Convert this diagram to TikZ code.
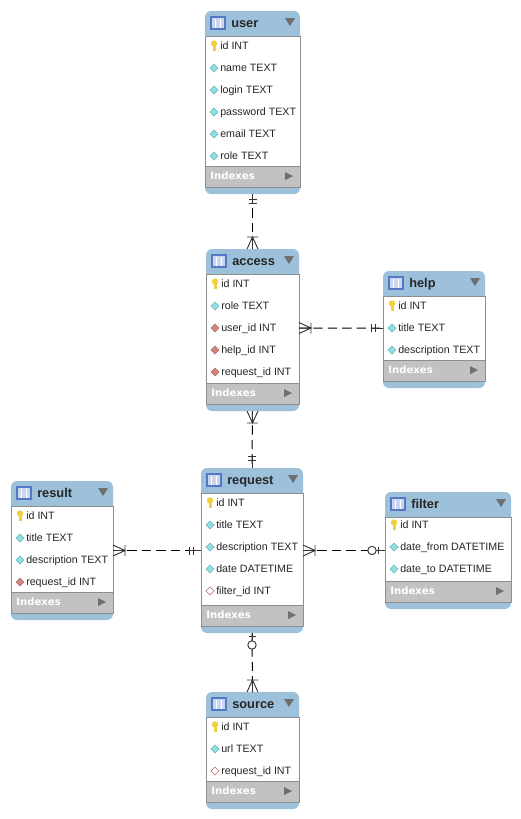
\documentclass[tikz,border=0pt]{standalone}
\usepackage{fontspec}
\setmainfont{Liberation Sans}
\newfontfamily\idxfont{DejaVu Sans}
\usetikzlibrary{arrows.meta,positioning,calc,fit}
\definecolor{headblue}{HTML}{9DC1DA}
\definecolor{idxgray}{HTML}{C2C2C2}
\definecolor{edgegray}{HTML}{8E8E8E}
\definecolor{arrowgray}{HTML}{6E6E6E}
\definecolor{iconblue}{HTML}{5578C4}
\definecolor{iconfill}{HTML}{C9D6EE}
\definecolor{keyyellow}{HTML}{F0D040}
\definecolor{colcyan}{HTML}{8FE0E0}
\definecolor{colteal}{HTML}{6FB4B8}
\definecolor{fkred}{HTML}{D0857C}
\definecolor{fkedge}{HTML}{B07068}
% one table: name, left, top, right, bottom, title
\newcommand{\erdtable}[6]{
	\node[tbl,fit={(#2,#3) (#4,#5)}] (#1) {};
	\node[body,fit={(#2,#3+25) (#4,#5-28)}] (#1body) {};
	\node[idx,fit={(#2,#5-28) (#4,#5-7)}] (#1idx) {};
	\node[title] (#1title) at (#2+26,#3+16.5) {#6};
	\node[idxtext] (#1idxtext) at (#2+5,#5-14.5) {Indexes};
	\pic at (#2+6,#3+6) {tableicon};
	\fill[arrowgray] (#4-15,#3+7)--(#4-5,#3+7)--(#4-10,#3+15)--cycle;
	\fill[arrowgray] (#4-15,#5-22)--(#4-7,#5-18)--(#4-15,#5-14)--cycle;
}
% one column: node name, icon, left of the table, y, text
\newcommand{\erdrow}[5]{
	\pic at (#3+9,#4) {#2};
	\node[colname] (#1) at (#3+15,#4+3.5) {#5};
}
\begin{document}
\begin{tikzpicture}[x=0.75pt,y=-0.75pt,
	tbl/.style={rectangle,fill=headblue,rounded corners=4.5pt,inner sep=0pt,outer sep=0pt},
	body/.style={rectangle,draw=edgegray,fill=white,line width=0.6pt,inner sep=0pt,outer sep=0pt},
	idx/.style={rectangle,draw=edgegray,fill=idxgray,line width=0.6pt,inner sep=0pt,outer sep=0pt},
	title/.style={anchor=base west,inner sep=0pt,font=\fontsize{9.6}{11}\selectfont\bfseries,text=black!85},
	idxtext/.style={anchor=base west,inner sep=0pt,font=\idxfont\fontsize{7.6}{9}\selectfont\bfseries,text=white},
	colname/.style={anchor=base west,inner sep=0pt,font=\fontsize{8}{9}\selectfont,text=black!85},
	rel/.style={draw=black,line width=0.75pt,dash pattern=on 7pt off 3.8pt},
	relmark/.style={draw=black!80,line width=0.7pt},
	tableicon/.pic={
		\draw[iconblue,fill=iconfill,line width=0.8pt] (0,0) rectangle (14,12);
		\draw[white,line width=0.6pt] (4.5,2)--(4.5,11) (9,2)--(9,11);
	},
	keyicon/.pic={
		\fill[keyyellow] (-1.5,0)--(-1.5,5)--(1.5,5)--(1.5,0)--cycle;
		\fill[keyyellow] (0,-2.5) circle[radius=3.2];
	},
	colicon/.pic={\draw[colteal,fill=colcyan,line width=0.5pt] (-4,0)--(0,-4)--(4,0)--(0,4)--cycle;},
	fkicon/.pic={\draw[fkedge,fill=fkred,line width=0.5pt] (-4,0)--(0,-4)--(4,0)--(0,4)--cycle;},
	nullicon/.pic={\draw[fkedge,fill=white,line width=0.5pt] (-4,0)--(0,-4)--(4,0)--(0,4)--cycle;},
	foot/.pic={
		\draw[relmark] (0,-5.5)--(12,0)--(0,5.5) (0,0)--(12,0) (12,-5.5)--(12,5.5);
	},
	twobars/.pic={
		\draw[relmark] (0,0)--(12,0) (7.5,-4)--(7.5,4) (12,-4)--(12,4);
	},
	twobarsnear/.pic={
		\draw[relmark] (0,0)--(9,0) (5,-4)--(5,4) (9,-4)--(9,4);
	},
	zerobar/.pic={
		\draw[relmark] (0,0)--(9,0) (6.5,-3.5)--(6.5,3.5);
		\draw[relmark,fill=white] (13,0) circle[radius=4.2];
	},
	zerobarnear/.pic={
		\draw[relmark] (0,0)--(8,0) (3.5,-3.5)--(3.5,3.5);
		\draw[relmark,fill=white] (12,0) circle[radius=4.2];
	}
	]
	\path[use as bounding box,fill=white] (0,0) rectangle (521,819);
	% tables
	\erdtable{user}{205}{11}{300}{194}{user}
	\erdrow{userid}{keyicon}{205}{46}{id INT}
	\erdrow{username}{colicon}{205}{68}{name TEXT}
	\erdrow{userlogin}{colicon}{205}{90}{login TEXT}
	\erdrow{userpassword}{colicon}{205}{112}{password TEXT}
	\erdrow{useremail}{colicon}{205}{134}{email TEXT}
	\erdrow{userrole}{colicon}{205}{156}{role TEXT}
	\erdtable{access}{206}{249}{299}{411}{access}
	\erdrow{accessid}{keyicon}{206}{284}{id INT}
	\erdrow{accessrole}{colicon}{206}{306}{role TEXT}
	\erdrow{accessuser}{fkicon}{206}{328}{user\_id INT}
	\erdrow{accesshelp}{fkicon}{206}{350}{help\_id INT}
	\erdrow{accessrequest}{fkicon}{206}{372}{request\_id INT}
	\erdtable{help}{383}{271}{485}{388}{help}
	\erdrow{helpid}{keyicon}{383}{306}{id INT}
	\erdrow{helptitle}{colicon}{383}{328}{title TEXT}
	\erdrow{helpdescription}{colicon}{383}{350}{description TEXT}
	\erdtable{request}{201}{468}{303}{633}{request}
	\erdrow{requestid}{keyicon}{201}{503}{id INT}
	\erdrow{requesttitle}{colicon}{201}{525}{title TEXT}
	\erdrow{requestdescription}{colicon}{201}{547}{description TEXT}
	\erdrow{requestdate}{colicon}{201}{569}{date DATETIME}
	\erdrow{requestfilter}{nullicon}{201}{591}{filter\_id INT}
	\erdtable{result}{11}{481}{113}{620}{result}
	\erdrow{resultid}{keyicon}{11}{516}{id INT}
	\erdrow{resulttitle}{colicon}{11}{538}{title TEXT}
	\erdrow{resultdescription}{colicon}{11}{560}{description TEXT}
	\erdrow{resultrequest}{fkicon}{11}{582}{request\_id INT}
	\erdtable{filter}{385}{492}{511}{609}{filter}
	\erdrow{filterid}{keyicon}{385}{525}{id INT}
	\erdrow{filterfrom}{colicon}{385}{547}{date\_from DATETIME}
	\erdrow{filterto}{colicon}{385}{569}{date\_to DATETIME}
	\erdtable{source}{206}{692}{299}{809}{source}
	\erdrow{sourceid}{keyicon}{206}{727}{id INT}
	\erdrow{sourceurl}{colicon}{206}{749}{url TEXT}
	\erdrow{sourcerequest}{nullicon}{206}{771}{request\_id INT}
	% connectors
	\draw[rel] (user.south) -- (access.north);
	\draw[rel] (access.south) -- (request.north);
	\draw[rel] (request.south) -- (source.north);
	\draw[rel] ([yshift=1.5pt]access.east) -- ([yshift=1pt]help.west);
	\draw[rel] (result.east) -- (request.west);
	\draw[rel] (request.east) -- (filter.west);
	% ends of the connectors
	\pic[rotate=-90] at (user.south) {twobarsnear};
	\pic[rotate=90] at (access.north) {foot};
	\pic[rotate=-90] at (access.south) {foot};
	\pic[rotate=90] at (request.north) {twobars};
	\pic[rotate=-90] at (request.south) {zerobarnear};
	\pic[rotate=90] at (source.north) {foot};
	\pic at ([yshift=1.5pt]access.east) {foot};
	\pic[rotate=180] at ([yshift=1pt]help.west) {twobars};
	\pic at (result.east) {foot};
	\pic[rotate=180] at (request.west) {twobars};
	\pic at (request.east) {foot};
	\pic[rotate=180] at (filter.west) {zerobar};
\end{tikzpicture}
\end{document}
